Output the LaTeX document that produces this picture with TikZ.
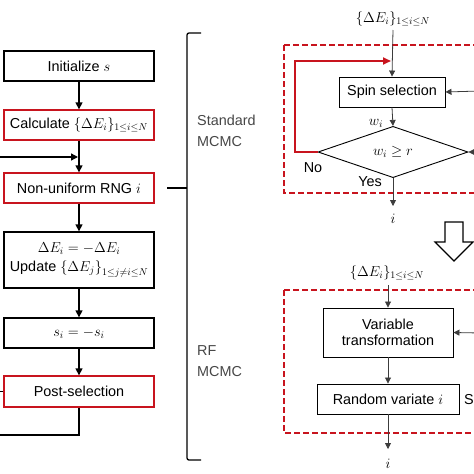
\documentclass[tikz,border=0pt]{standalone}
\usepackage{fontspec}
\setmainfont{Liberation Sans}
\usetikzlibrary{arrows.meta,shapes.geometric}
\definecolor{myred}{RGB}{200,20,30}
\definecolor{lbl}{RGB}{70,70,70}
\definecolor{ln}{RGB}{60,60,60}
\begin{document}
\begin{tikzpicture}[x=1pt,y=-1pt,font=\fontsize{14.4}{17}\selectfont,
  box/.style={draw,line width=1.3pt,minimum width=150pt,minimum height=30pt,inner sep=0pt},
  rbox/.style={box,draw=myred},
  tbox/.style={draw,line width=0.9pt,inner sep=0pt},
  tharrow/.style={line width=1.3pt,-{Triangle[length=7pt,width=7pt]}},
  tnarrow/.style={line width=0.8pt,draw=ln,-{Triangle[length=6pt,width=6pt]}},
  dbox/.style={draw=myred,line width=1.6pt,dash pattern=on 6pt off 3pt},
  lab/.style={text=lbl,align=left,anchor=west,inner sep=0pt},
  plain/.style={inner sep=0pt}]
\useasboundingbox (0,0) rectangle (474,474);

% ---------- left flow ----------
\node[box] (init) at (79,66) {Initialize $s$};
\node[rbox] (calc) at (79,125) {Calculate $\{\Delta E_i\}_{1\le i\le N}$};
\node[rbox] (rng) at (79,188) {Non-uniform RNG $i$};
\node[box,minimum height=56pt,align=center] (upd) at (79,260)
  {$\Delta E_i=-\Delta E_i$\\[2pt]Update $\bigl\{\Delta E_j\bigr\}_{1\le j\ne i\le N}$};
\node[box] (flip) at (79,333) {$s_i=-s_i$};
\node[rbox,minimum height=31pt] (post) at (79,391.5) {Post-selection};

\draw[tharrow] (init) -- (calc);
\draw[tharrow] (calc) -- (rng);
\draw[tharrow] (rng) -- (upd);
\draw[tharrow] (upd) -- (flip);
\draw[tharrow] (flip) -- (post);

\coordinate (inL) at (0,157);
\coordinate (inR) at (78,157);
\draw[tharrow] (inL) -- (inR);
\coordinate (postL) at (0,391.5);
\draw[line width=1.3pt] (post.west) -- (postL);
\coordinate (loopA) at (79,435);
\coordinate (loopB) at (0,435);
\draw[line width=1.3pt] (post.south) -- (loopA) -- (loopB);

% ---------- brace ----------
\coordinate (bt) at (201,33);
\coordinate (bb) at (201,460);
\coordinate (bm) at (187,188);
\coordinate (tk) at (167,188);
\draw[line width=1.3pt,rounded corners=2pt] (bt) -- (187,33) -- (187,460) -- (bb);
\draw[line width=1.3pt] (tk) -- (bm);

\node[lab] (std) at (197,131) {Standard\\[4pt]MCMC};
\node[lab] (rf) at (197,361) {RF\\[4pt]MCMC};

% ---------- standard MCMC ----------
\node[plain] (de1) at (393,19) {$\{\Delta E_i\}_{1\le i\le N}$};
\draw[dbox] (284,45) -- (480,45) (284,45) -- (284,193) -- (480,193);
\node[tbox,minimum width=106pt,minimum height=30pt] (spin) at (392,92) {Spin selection};
\node[draw,line width=0.9pt,shape=diamond,minimum width=150pt,minimum height=31pt,inner sep=0pt] (dia) at (393,152) {$w_i\ge r$};
\coordinate (de1s) at (393,30);
\draw[tnarrow] (de1s) -- (spin.north);
\draw[tnarrow] (spin.south) -- (dia.north);
\node[plain] (wi) at (376,123) {$w_i$};
\coordinate (sr) at (480,91);
\draw[tnarrow] (sr) -- (spin.east);
\coordinate (dr) at (480,152);
\draw[tnarrow] (dr) -- (dia.east);
\coordinate (ra) at (295,152);
\coordinate (rb) at (295,61);
\coordinate (rc) at (391,61);
\draw[myred,line width=1.8pt,-{Triangle[length=8pt,width=7pt]}] (dia.west) -- (ra) -- (rb) -- (rc);
\node[plain] (no) at (313,168) {No};
\node[plain] (yes) at (370,182) {Yes};
\node[plain] (i1) at (393,219) {$i$};
\draw[tnarrow] (dia.south) -- (393,206);

% hollow arrow
\draw[line width=1.2pt,fill=white] (445,222) -- (463,222) -- (463,242) -- (473,242) -- (454,261) -- (435,242) -- (445,242) -- cycle;

% ---------- RF MCMC ----------
\node[plain] (de2) at (387,273) {$\{\Delta E_i\}_{1\le i\le N}$};
\draw[dbox] (284,290) -- (480,290) (284,290) -- (284,433) -- (480,433);
\node[tbox,minimum width=130pt,minimum height=49pt,align=center] (vt) at (388,332.5) {Variable\\[-1pt]transformation};
\node[tbox,minimum width=142pt,minimum height=30pt] (rv) at (388,399) {Random variate $i$};
\coordinate (de2s) at (388,285);
\draw[tnarrow] (de2s) -- (vt.north);
\coordinate (vr) at (480,333);
\draw[tnarrow] (vr) -- (vt.east);
\draw[tnarrow] (vt.south) -- (rv.north);
\node[plain,anchor=west] (s) at (464,400) {S};
\node[plain] (i2) at (388,464) {$i$};
\draw[tnarrow] (rv.south) -- (388,449);
\end{tikzpicture}
\end{document}
